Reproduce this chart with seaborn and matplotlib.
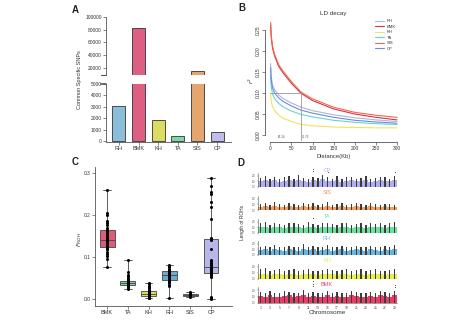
import matplotlib
matplotlib.use("Agg")
import matplotlib.pyplot as plt
import numpy as np
import pandas as pd
import seaborn as sns

sns.set_theme(style="ticks")
plt.rcParams['font.family'] = ['Liberation Sans', 'DejaVu Sans']

# ---------------- Panel A data ----------------
snp_groups = ["RH", "BMK", "KH", "TA", "SIS", "CP"]
snp_counts = [3100, 82000, 1850, 450, 15500, 800]
group_colors = {"RH": "#7ec3e6", "BMK": "#f24b7a", "KH": "#eef050", "TA": "#6ee8a0",
                "SIS": "#f9a35a", "CP": "#b8b4f2"}

# ---------------- Panel B data ----------------
ld_distance = [0.5, 2, 5, 10, 20, 30, 50, 73, 100, 150, 200, 250, 300]
ld_RH = [0.170, 0.140, 0.120, 0.108, 0.095, 0.087, 0.076, 0.066, 0.058, 0.048, 0.041, 0.036, 0.032]
ld_BMK = [0.263, 0.233, 0.208, 0.188, 0.163, 0.148, 0.123, 0.099, 0.082, 0.062, 0.050, 0.042, 0.036]
ld_KH = [0.100, 0.080, 0.068, 0.058, 0.047, 0.040, 0.032, 0.025, 0.022, 0.019, 0.018, 0.017, 0.017]
ld_TA = [0.140, 0.115, 0.098, 0.087, 0.075, 0.067, 0.057, 0.049, 0.043, 0.035, 0.030, 0.027, 0.025]
ld_SIS = [0.268, 0.238, 0.213, 0.192, 0.167, 0.152, 0.127, 0.102, 0.086, 0.066, 0.054, 0.047, 0.042]
ld_CP = [0.160, 0.130, 0.112, 0.100, 0.088, 0.080, 0.069, 0.059, 0.052, 0.042, 0.035, 0.031, 0.028]
ld_colors = {"RH": "#a9b8d8", "BMK": "#d8304e", "KH": "#f2e35a", "TA": "#62d6cc",
             "SIS": "#f26a45", "CP": "#7088e0"}

# ---------------- Panel C data ----------------
froh_order = ["BMK", "TA", "KH", "RH", "SIS", "CP"]
froh_BMK = [0.075, 0.095, 0.103, 0.108, 0.112, 0.118, 0.120, 0.122, 0.125, 0.128, 0.131, 0.134,
            0.137, 0.139, 0.140, 0.141, 0.143, 0.146, 0.149, 0.152, 0.155, 0.158, 0.162, 0.165,
            0.168, 0.175, 0.181, 0.186, 0.200, 0.205, 0.260]
froh_TA = [0.024, 0.026, 0.027, 0.028, 0.029, 0.030, 0.031, 0.032, 0.033, 0.034, 0.035, 0.036,
           0.037, 0.037, 0.038, 0.038, 0.039, 0.040, 0.041, 0.042, 0.043, 0.044, 0.044, 0.046,
           0.048, 0.050, 0.054, 0.058, 0.065, 0.093]
froh_KH = [0.002, 0.003, 0.004, 0.005, 0.006, 0.007, 0.007, 0.008, 0.009, 0.010, 0.010, 0.011,
           0.011, 0.012, 0.012, 0.013, 0.014, 0.015, 0.016, 0.017, 0.018, 0.020, 0.022, 0.025,
           0.028, 0.031, 0.035, 0.038]
froh_RH = [0.003, 0.030, 0.034, 0.038, 0.041, 0.043, 0.044, 0.046, 0.048, 0.050, 0.052, 0.054,
           0.055, 0.056, 0.057, 0.058, 0.060, 0.062, 0.064, 0.065, 0.066, 0.068, 0.070, 0.072,
           0.075, 0.078, 0.081]
froh_SIS = [0.005, 0.006, 0.007, 0.007, 0.008, 0.008, 0.009, 0.009, 0.009, 0.010, 0.010, 0.011,
            0.011, 0.012, 0.013, 0.014, 0.016]
froh_CP = [0.000, 0.002, 0.004, 0.052, 0.056, 0.058, 0.060, 0.062, 0.064, 0.066, 0.068, 0.070,
           0.072, 0.074, 0.075, 0.077, 0.080, 0.083, 0.086, 0.090, 0.094, 0.120, 0.140, 0.145,
           0.190, 0.220, 0.230, 0.250, 0.255, 0.270, 0.288]
box_colors = {"BMK": "#f2466f", "TA": "#6fdc9a", "KH": "#eef04a", "RH": "#5daee0",
              "SIS": "#f0a070", "CP": "#b0aef2"}

# ---------------- Panel D data ----------------
chroms = list(range(1, 30))
track_order = ["CP", "SIS", "TA", "RH", "KH", "BMK"]
CP_band = [1.1, 1.3, 1.0, 1.2, 0.9, 1.1, 1.2, 1.0, 1.3, 1.1, 0.9, 1.2, 1.0, 1.4, 1.1, 1.0, 1.2, 0.9, 1.1, 1.2, 1.0, 1.1, 1.3, 0.9, 1.0, 1.2, 1.1, 1.0, 1.2]
CP_peak = [1.6, 2.0, 1.5, 1.8, 1.4, 1.7, 1.9, 1.5, 2.1, 1.6, 1.5, 1.8, 1.6, 2.2, 1.7, 1.5, 1.9, 1.4, 1.8, 1.7, 1.5, 1.6, 1.9, 1.4, 1.6, 1.8, 1.7, 1.5, 2.0]
SIS_band = [0.6, 0.7, 0.5, 0.8, 0.6, 0.5, 0.7, 0.6, 0.5, 0.7, 0.6, 0.8, 0.5, 0.6, 0.7, 0.5, 0.6, 0.7, 0.5, 0.6, 0.8, 0.6, 0.5, 0.7, 0.6, 0.5, 0.7, 0.6, 0.5]
SIS_peak = [1.0, 1.3, 0.9, 1.4, 1.1, 0.9, 1.2, 1.0, 0.9, 1.3, 1.1, 1.2, 0.9, 1.0, 1.4, 0.9, 1.0, 1.2, 0.9, 1.1, 1.3, 1.0, 0.9, 1.2, 1.0, 0.9, 1.1, 1.0, 0.9]
TA_band = [1.0, 1.1, 0.9, 1.0, 1.1, 0.9, 1.0, 1.1, 1.0, 0.9, 1.1, 1.0, 0.9, 1.0, 1.1, 1.0, 0.9, 1.1, 1.0, 0.9, 1.0, 1.1, 0.9, 1.0, 1.1, 1.0, 0.9, 1.0, 1.1]
TA_peak = [1.7, 1.9, 1.5, 1.8, 1.6, 1.5, 1.7, 1.8, 1.6, 1.5, 1.9, 1.6, 1.5, 1.8, 1.7, 1.6, 1.5, 1.8, 1.7, 1.5, 1.6, 1.8, 1.5, 1.7, 1.6, 1.8, 1.5, 1.7, 1.9]
RH_band = [0.9, 1.0, 0.8, 1.0, 0.9, 0.8, 1.0, 0.9, 0.8, 1.0, 0.9, 1.1, 0.8, 0.9, 1.0, 0.8, 0.9, 1.0, 0.8, 0.9, 1.0, 0.9, 0.8, 1.0, 0.9, 0.8, 1.0, 0.9, 1.0]
RH_peak = [1.5, 1.6, 1.4, 1.7, 1.5, 1.4, 1.6, 1.5, 1.4, 1.9, 1.5, 1.6, 1.4, 1.5, 1.7, 1.4, 1.5, 1.6, 1.4, 1.5, 1.6, 1.5, 1.4, 1.6, 1.5, 1.4, 1.6, 1.5, 1.7]
KH_band = [0.8, 0.9, 0.7, 0.8, 0.9, 0.7, 0.8, 0.9, 0.7, 0.8, 0.9, 0.8, 0.7, 0.8, 0.9, 0.8, 0.7, 0.8, 0.9, 0.7, 0.8, 0.9, 0.7, 0.8, 0.9, 0.8, 0.7, 0.8, 0.9]
KH_peak = [1.6, 1.8, 1.4, 1.5, 1.6, 1.3, 1.5, 1.6, 1.4, 1.5, 1.7, 1.4, 1.3, 1.5, 1.6, 1.5, 1.3, 1.5, 1.6, 1.4, 1.5, 1.6, 1.3, 1.5, 1.6, 1.4, 1.3, 1.5, 1.6]
BMK_band = [1.1, 1.0, 1.2, 1.0, 0.9, 1.1, 1.2, 1.0, 1.1, 1.3, 1.0, 1.1, 0.9, 1.0, 1.2, 1.0, 1.1, 0.9, 1.0, 1.2, 1.1, 1.0, 0.9, 1.1, 1.0, 1.2, 1.1, 1.0, 1.2]
BMK_peak = [1.7, 1.5, 1.8, 1.6, 1.5, 1.9, 1.7, 1.5, 1.6, 2.0, 1.5, 1.7, 1.5, 1.6, 1.8, 1.5, 1.7, 1.5, 1.6, 1.8, 1.7, 1.5, 1.5, 1.7, 1.6, 1.8, 1.7, 1.6, 1.9]
CP_out_chr = [12, 12, 15, 29]
CP_out_val = [3.2, 2.8, 2.6, 2.7]
TA_out_chr = [12]
TA_out_val = [2.6]
BMK_out_chr = [12, 12, 12, 29, 29]
BMK_out_val = [3.4, 3.0, 2.6, 2.8, 2.5]
track_colors = {"CP": "#aeb0ee", "SIS": "#f5a060", "TA": "#6ee0a0", "RH": "#6ab4e2",
                "KH": "#e8ee4a", "BMK": "#ee3a66"}
track_label_colors = {"CP": "#b4b0f0", "SIS": "#f59060", "TA": "#70e0b0", "RH": "#70b8e8",
                      "KH": "#e6ea50", "BMK": "#f04070"}
track_data = {
    "CP": (CP_band, CP_peak, CP_out_chr, CP_out_val),
    "SIS": (SIS_band, SIS_peak, [], []),
    "TA": (TA_band, TA_peak, TA_out_chr, TA_out_val),
    "RH": (RH_band, RH_peak, [], []),
    "KH": (KH_band, KH_peak, [], []),
    "BMK": (BMK_band, BMK_peak, BMK_out_chr, BMK_out_val),
}

W, H = 474, 325
fig = plt.figure(figsize=(W / 100, H / 100), dpi=100)
TXT = "#333333"
SP = "#555555"


def px_axes(x0, y0, x1, y1):
    return fig.add_axes([x0 / W, 1 - y1 / H, (x1 - x0) / W, (y1 - y0) / H])


def style_ax(ax, fs=3.5):
    for s in ax.spines.values():
        s.set_color(SP)
        s.set_linewidth(0.6)
    ax.tick_params(labelsize=fs, length=2, width=0.5, pad=1, colors=SP, labelcolor=TXT)


# ================= Panel A =================
dfA = pd.DataFrame({"group": snp_groups, "count": snp_counts})
axA_up = px_axes(106, 17, 231, 75)
axA_lo = px_axes(106, 84, 231, 142)
for ax in (axA_up, axA_lo):
    sns.barplot(data=dfA, x="group", y="count", hue="group", palette=group_colors,
                order=snp_groups, hue_order=snp_groups, width=0.66, legend=False,
                edgecolor="#333333", linewidth=0.6, ax=ax)
    ax.set_xlim(-0.66, 5.71)
    ax.set_xlabel("")
    ax.set_ylabel("")
    style_ax(ax)
    ax.spines["top"].set_visible(False)
    ax.spines["right"].set_visible(False)
axA_up.set_ylim(9000, 100000)
axA_up.set_yticks([20000, 40000, 60000, 80000, 100000])
axA_up.spines["bottom"].set_visible(False)
axA_up.tick_params(axis="x", bottom=False, labelbottom=False)
axA_lo.set_ylim(-60, 5000)
axA_lo.set_yticks([0, 1000, 2000, 3000, 4000, 5000])
axA_lo.tick_params(axis="x", labelsize=4)
axA_up.plot([-0.04, 0.0], [0, 0], transform=axA_up.transAxes, color=SP, lw=0.8, clip_on=False)
axA_lo.plot([-0.04, 0.0], [1, 1], transform=axA_lo.transAxes, color=SP, lw=1.2, clip_on=False)
fig.text(79 / W, 1 - 80 / H, "Common Specific SNPs", rotation=90, fontsize=4,
         ha="center", va="center", color=TXT)
fig.text(75 / W, 1 - 10 / H, "A", fontsize=7, fontweight="bold", ha="center", va="center", color="#222")

# ================= Panel B =================
ld_series = {"RH": ld_RH, "BMK": ld_BMK, "KH": ld_KH, "TA": ld_TA, "SIS": ld_SIS, "CP": ld_CP}
dfB = pd.concat([pd.DataFrame({"Distance": ld_distance, "r2": v, "Group": k})
                 for k, v in ld_series.items()], ignore_index=True)
axB = px_axes(265.3, 17.4, 402, 141.7)
sns.lineplot(data=dfB, x="Distance", y="r2", hue="Group", palette=ld_colors,
             hue_order=snp_groups, linewidth=0.8, ax=axB)
axB.set_xlim(-12, 312)
axB.set_ylim(-0.016, 0.28)
axB.axhline(0.10, xmin=(0 + 12) / 324, xmax=(72 + 12) / 324, color="#999999", lw=0.6)
axB.plot([72, 72], [0.10, -0.011], color="#999999", lw=0.6)
axB.text(27, -0.004, "16.14", fontsize=2.2, color="#555", ha="center", va="center")
axB.text(83, -0.004, "71.76", fontsize=2.2, color="#555", ha="center", va="center")
style_ax(axB)
axB.spines["top"].set_visible(False)
axB.spines["right"].set_visible(False)
axB.spines["left"].set_bounds(0, 0.25)
axB.spines["bottom"].set_bounds(0, 300)
axB.set_xticks([0, 50, 100, 150, 200, 250, 300])
axB.set_yticks([0.00, 0.05, 0.10, 0.15, 0.20, 0.25])
axB.set_yticklabels(["0.00", "0.05", "0.10", "0.15", "0.20", "0.25"], rotation=90, va="center")
axB.set_xlabel("Distance(Kb)", fontsize=4.2, labelpad=2, color=TXT)
axB.set_ylabel("")
fig.text(251 / W, 1 - 80 / H, "$r^2$", rotation=90, fontsize=4.5, ha="center", va="center", color=TXT)
axB.set_title("LD decay", fontsize=4.5, pad=2, color=TXT)
leg = axB.legend(loc="upper left", bbox_to_anchor=((373 - 265.3) / 136.7, 1.0), frameon=False,
                 fontsize=3, handlelength=2.2, labelspacing=0.35, borderpad=0, handletextpad=0.6)
for t in leg.get_texts():
    t.set_color(TXT)
fig.text(242 / W, 1 - 8 / H, "B", fontsize=7, fontweight="bold", ha="center", va="center", color="#222")

# ================= Panel C =================
froh_series = {"BMK": froh_BMK, "TA": froh_TA, "KH": froh_KH, "RH": froh_RH, "SIS": froh_SIS, "CP": froh_CP}
dfC = pd.concat([pd.DataFrame({"Group": k, "F": v}) for k, v in froh_series.items()], ignore_index=True)
axC = px_axes(95, 166.7, 232, 305.7)
sns.boxplot(data=dfC, x="Group", y="F", hue="Group", palette=box_colors, order=froh_order,
            hue_order=froh_order, width=0.72, whis=(0, 100), showfliers=False, linewidth=0.6,
            linecolor="#444444", legend=False, ax=axC)
sns.stripplot(data=dfC, x="Group", y="F", order=froh_order, color="black", size=2.2,
              jitter=False, ax=axC)
axC.set_xlim(-0.58, 6.01)
axC.set_ylim(-0.016, 0.315)
axC.set_yticks([0.0, 0.1, 0.2, 0.3])
style_ax(axC)
axC.tick_params(axis="x", labelsize=4)
axC.spines["top"].set_visible(False)
axC.spines["right"].set_visible(False)
axC.set_xlabel("")
axC.set_ylabel("")
fig.text(80 / W, 1 - 239 / H, "$F_{ROH}$", rotation=90, fontsize=4.5, ha="center", va="center", color=TXT)
fig.text(75 / W, 1 - 162 / H, "C", fontsize=7, fontweight="bold", ha="center", va="center", color="#222")

# ================= Panel D =================
track_px = {"CP": (173, 187), "SIS": (196, 210), "TA": (219, 233), "RH": (241, 255),
            "KH": (264, 279), "BMK": (287, 303)}
for name in track_order:
    y0, y1 = track_px[name]
    ax = px_axes(258, y0, 397, y1)
    band, peak, oc, ov = track_data[name]
    ax.bar(chroms, band, width=1.0, color=track_colors[name], linewidth=0)
    ax.bar(chroms, peak, width=0.28, color="#3c3c3c", linewidth=0, zorder=3)
    if oc:
        ax.scatter(oc, ov, s=0.6, color="#444444", linewidths=0, zorder=4, clip_on=False)
    ax.set_xlim(0.5, 29.5)
    ax.set_ylim(0, 2.5)
    ax.set_facecolor("none")
    ax.set_yticks([0, 1.0, 2.0])
    ax.set_yticklabels(["0.0", "1.0", "2.0"])
    for s in ("top", "right"):
        ax.spines[s].set_visible(False)
    ax.spines["left"].set_color(SP)
    ax.spines["left"].set_linewidth(0.4)
    ax.tick_params(axis="y", labelsize=1.8, length=1, width=0.3, pad=0.5, colors=SP, labelcolor="#555")
    if name == "BMK":
        ax.spines["bottom"].set_color(SP)
        ax.spines["bottom"].set_linewidth(0.4)
        ax.set_xticks(chroms[::2])
        ax.tick_params(axis="x", labelsize=2.4, length=1, width=0.3, pad=1, colors=SP, labelcolor="#444")
    else:
        ax.spines["bottom"].set_visible(False)
        ax.set_xticks([])
    fig.text(327 / W, 1 - (y0 - 3) / H, name, fontsize=4, color=track_label_colors[name],
             ha="center", va="center")
fig.text(327 / W, 1 - 313 / H, "Chromosome", fontsize=4.5, ha="center", va="center", color=TXT)
fig.text(243 / W, 1 - 222 / H, "Length of ROHs", rotation=90, fontsize=3.5, ha="center",
         va="center", color=TXT)
fig.text(241 / W, 1 - 163 / H, "D", fontsize=7, fontweight="bold", ha="center", va="center", color="#222")

fig.savefig("out.png", dpi=100)
